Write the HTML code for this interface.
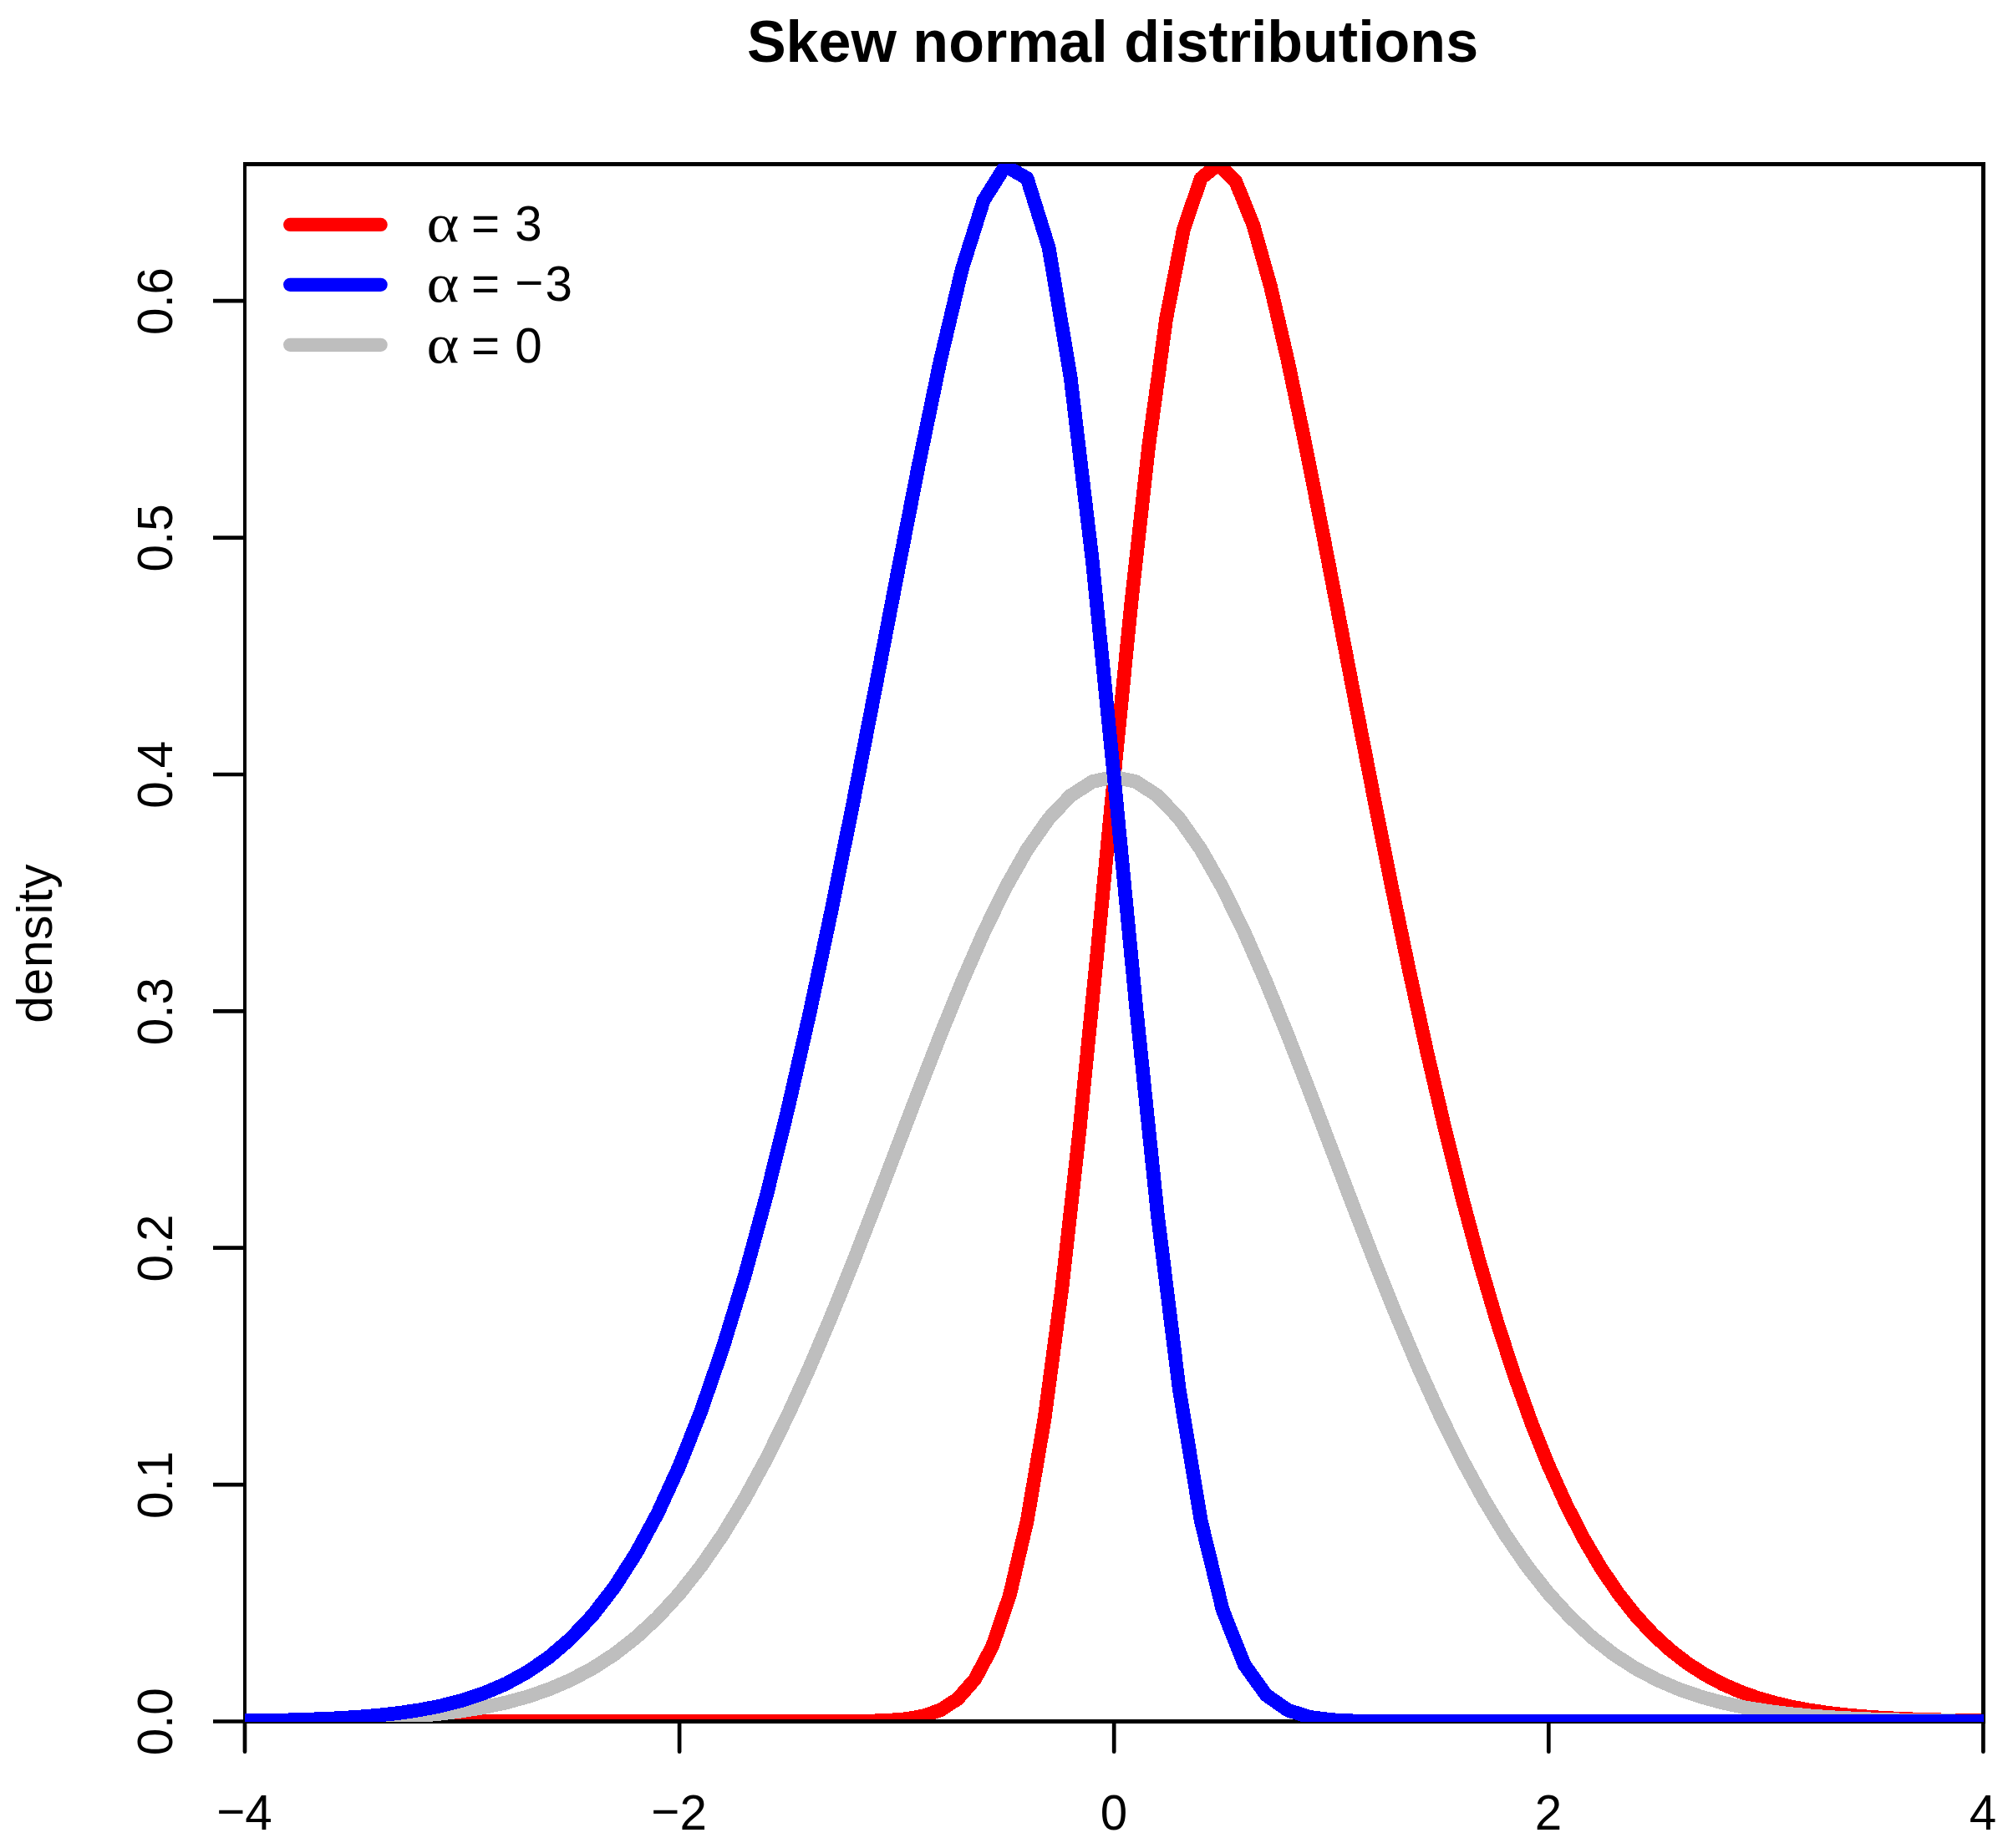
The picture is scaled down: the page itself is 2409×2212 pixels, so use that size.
<!DOCTYPE html>
<html lang="en"><head><meta charset="utf-8"><title>Skew normal distributions</title>
<style>html,body{margin:0;padding:0;background:#fff}body{width:2409px;height:2212px;overflow:hidden}svg{display:block}text{font-family:"Liberation Sans",sans-serif;font-size:58.33px;fill:#000}.t{font-weight:bold;font-size:70px}.sym{font-family:"Liberation Serif",serif}.c{fill:none;stroke-width:16.7;stroke-linejoin:round;stroke-linecap:round}.k{stroke:#000;stroke-width:4.7;stroke-linecap:round;fill:none}</style></head><body>
<svg width="2409" height="2212" viewBox="0 0 2409 2212">
<defs><clipPath id="cp"><rect x="293" y="196" width="2081" height="1865"/></clipPath></defs>
<rect width="2409" height="2212" fill="#fff"/>
<g clip-path="url(#cp)" shape-rendering="crispEdges"><polyline class="c" stroke="#ff0000" points="293.00,2060.50 313.80,2060.50 334.61,2060.50 355.41,2060.50 376.22,2060.50 397.02,2060.50 417.82,2060.50 438.63,2060.50 459.43,2060.50 480.24,2060.50 501.04,2060.50 521.84,2060.50 542.65,2060.50 563.45,2060.50 584.26,2060.50 605.06,2060.50 625.86,2060.50 646.67,2060.50 667.47,2060.50 688.28,2060.50 709.08,2060.50 729.88,2060.50 750.69,2060.50 771.49,2060.50 792.30,2060.50 813.10,2060.50 833.90,2060.50 854.71,2060.50 875.51,2060.50 896.32,2060.50 917.12,2060.50 937.92,2060.50 958.73,2060.49 979.53,2060.48 1000.34,2060.44 1021.14,2060.32 1041.94,2060.03 1062.75,2059.31 1083.55,2057.66 1104.36,2054.14 1125.16,2047.04 1145.96,2033.65 1166.77,2009.97 1187.57,1970.66 1208.38,1909.51 1229.18,1820.33 1249.98,1698.47 1270.79,1542.57 1291.59,1355.97 1312.40,1147.34 1333.20,929.99 1354.00,719.87 1374.81,532.77 1395.61,381.60 1416.42,274.36 1437.22,213.49 1458.02,196.50 1478.83,217.45 1499.63,268.73 1520.44,342.59 1541.24,432.12 1562.04,531.73 1582.85,637.13 1603.65,745.14 1624.46,853.40 1645.26,960.12 1666.06,1063.94 1686.87,1163.78 1707.67,1258.78 1728.48,1348.29 1749.28,1431.85 1770.08,1509.15 1790.89,1580.03 1811.69,1644.46 1832.50,1702.56 1853.30,1754.50 1874.10,1800.58 1894.91,1841.13 1915.71,1876.53 1936.52,1907.20 1957.32,1933.58 1978.12,1956.09 1998.93,1975.15 2019.73,1991.18 2040.54,2004.55 2061.34,2015.64 2082.14,2024.76 2102.95,2032.20 2123.75,2038.24 2144.56,2043.10 2165.36,2046.99 2186.16,2050.07 2206.97,2052.51 2227.77,2054.41 2248.58,2055.89 2269.38,2057.03 2290.18,2057.91 2310.99,2058.58 2331.79,2059.08 2352.60,2059.46 2373.40,2059.74"/></g>
<g shape-rendering="crispEdges" fill="#000">
<rect x="291" y="194" width="4" height="1869"/>
<rect x="2371" y="194" width="5" height="1869"/>
<rect x="291" y="194" width="2085" height="5"/>
<rect x="291" y="2058" width="2085" height="5"/>
</g>
<line class="k" x1="293.0" y1="2060.5" x2="293.0" y2="2096.7"/>
<line class="k" x1="813.1" y1="2060.5" x2="813.1" y2="2096.7"/>
<line class="k" x1="1333.2" y1="2060.5" x2="1333.2" y2="2096.7"/>
<line class="k" x1="1853.3" y1="2060.5" x2="1853.3" y2="2096.7"/>
<line class="k" x1="2373.4" y1="2060.5" x2="2373.4" y2="2096.7"/>
<line class="k" style="stroke-linecap:butt" x1="293.0" y1="2060.5" x2="255.0" y2="2060.5"/>
<line class="k" style="stroke-linecap:butt" x1="293.0" y1="1777.1" x2="255.0" y2="1777.1"/>
<line class="k" style="stroke-linecap:butt" x1="293.0" y1="1493.7" x2="255.0" y2="1493.7"/>
<line class="k" style="stroke-linecap:butt" x1="293.0" y1="1210.4" x2="255.0" y2="1210.4"/>
<line class="k" style="stroke-linecap:butt" x1="293.0" y1="927.0" x2="255.0" y2="927.0"/>
<line class="k" style="stroke-linecap:butt" x1="293.0" y1="643.6" x2="255.0" y2="643.6"/>
<line class="k" style="stroke-linecap:butt" x1="293.0" y1="360.2" x2="255.0" y2="360.2"/>
<g clip-path="url(#cp)" shape-rendering="crispEdges"><polyline class="c" stroke="#bebebe" points="293.00,2060.12 319.00,2059.94 345.01,2059.67 371.01,2059.30 397.02,2058.77 423.02,2058.03 449.03,2057.01 475.04,2055.62 501.04,2053.74 527.04,2051.24 553.05,2047.94 579.06,2043.63 605.06,2038.07 631.06,2030.97 657.07,2022.01 683.08,2010.83 709.08,1997.04 735.09,1980.23 761.09,1959.97 787.10,1935.86 813.10,1907.50 839.11,1874.56 865.11,1836.77 891.12,1793.99 917.12,1746.18 943.12,1693.48 969.13,1636.21 995.14,1574.88 1021.14,1510.22 1047.14,1443.16 1073.15,1374.81 1099.16,1306.48 1125.16,1239.58 1151.16,1175.65 1177.17,1116.22 1203.18,1062.83 1229.18,1016.91 1255.18,979.74 1281.19,952.38 1307.20,935.63 1333.20,929.99 1359.21,935.63 1385.21,952.38 1411.21,979.74 1437.22,1016.91 1463.23,1062.83 1489.23,1116.22 1515.24,1175.65 1541.24,1239.58 1567.25,1306.48 1593.25,1374.81 1619.26,1443.16 1645.26,1510.22 1671.27,1574.88 1697.27,1636.21 1723.28,1693.48 1749.28,1746.18 1775.29,1793.99 1801.29,1836.77 1827.30,1874.56 1853.30,1907.50 1879.31,1935.86 1905.31,1959.97 1931.32,1980.23 1957.32,1997.04 1983.33,2010.83 2009.33,2022.01 2035.34,2030.97 2061.34,2038.07 2087.35,2043.63 2113.35,2047.94 2139.36,2051.24 2165.36,2053.74 2191.37,2055.62 2217.37,2057.01 2243.38,2058.03 2269.38,2058.77 2295.39,2059.30 2321.39,2059.67 2347.39,2059.94 2373.40,2060.12"/>
<polyline class="c" stroke="#0000ff" points="293.00,2059.74 319.00,2059.37 345.01,2058.85 371.01,2058.09 397.02,2057.03 423.02,2055.55 449.03,2053.52 475.04,2050.74 501.04,2046.99 527.04,2041.99 553.05,2035.38 579.06,2026.76 605.06,2015.64 631.06,2001.44 657.07,1983.52 683.08,1961.16 709.08,1933.58 735.09,1899.96 761.09,1859.45 787.10,1811.22 813.10,1754.50 839.11,1688.62 865.11,1613.05 891.12,1527.47 917.12,1431.85 943.12,1326.46 969.13,1211.93 995.14,1089.31 1021.14,960.12 1047.14,826.41 1073.15,690.98 1099.16,557.68 1125.16,432.12 1151.16,322.41 1177.17,239.80 1203.18,198.46 1229.18,213.49 1255.18,296.82 1281.19,452.07 1307.20,670.36 1333.20,929.99 1359.21,1200.90 1385.21,1452.69 1411.21,1662.65 1437.22,1820.33 1463.23,1927.20 1489.23,1992.64 1515.24,2028.89 1541.24,2047.04 1567.25,2055.27 1593.25,2058.65 1619.26,2059.90 1645.26,2060.32 1671.27,2060.45 1697.27,2060.49 1723.28,2060.50 1749.28,2060.50 1775.29,2060.50 1801.29,2060.50 1827.30,2060.50 1853.30,2060.50 1879.31,2060.50 1905.31,2060.50 1931.32,2060.50 1957.32,2060.50 1983.33,2060.50 2009.33,2060.50 2035.34,2060.50 2061.34,2060.50 2087.35,2060.50 2113.35,2060.50 2139.36,2060.50 2165.36,2060.50 2191.37,2060.50 2217.37,2060.50 2243.38,2060.50 2269.38,2060.50 2295.39,2060.50 2321.39,2060.50 2347.39,2060.50 2373.40,2060.50"/></g>
<text x="292.5" y="2190" text-anchor="middle"><tspan dy="-2.5">−</tspan><tspan dy="2.5">4</tspan></text>
<text x="812.6" y="2190" text-anchor="middle"><tspan dy="-2.5">−</tspan><tspan dy="2.5">2</tspan></text>
<text x="1332.9" y="2190" text-anchor="middle">0</text>
<text x="1853.0" y="2190" text-anchor="middle">2</text>
<text x="2373.1" y="2190" text-anchor="middle">4</text>
<text transform="translate(205.5,2060.8) rotate(-90)" text-anchor="middle">0.0</text>
<text transform="translate(205.5,1777.4) rotate(-90)" text-anchor="middle">0.1</text>
<text transform="translate(205.5,1494.0) rotate(-90)" text-anchor="middle">0.2</text>
<text transform="translate(205.5,1210.7) rotate(-90)" text-anchor="middle">0.3</text>
<text transform="translate(205.5,927.3) rotate(-90)" text-anchor="middle">0.4</text>
<text transform="translate(205.5,643.9) rotate(-90)" text-anchor="middle">0.5</text>
<text transform="translate(205.5,360.5) rotate(-90)" text-anchor="middle">0.6</text>
<text transform="translate(61.8,1129.1) rotate(-90)" text-anchor="middle" letter-spacing="0.9">density</text>
<text class="t" x="1331.5" y="73.6" text-anchor="middle">Skew normal distributions</text>
<line class="c" style="stroke-width:16.3" stroke="#ff0000" x1="347.2" y1="268.9" x2="455.6" y2="268.9"/>
<text class="sym" transform="translate(510.5,289.2) scale(1.14,1)" style="font-size:65px">α</text>
<text x="564" y="288.4">=</text>
<text x="616.3" y="288.4">3</text>
<line class="c" style="stroke-width:16.3" stroke="#0000ff" x1="347.2" y1="340.8" x2="455.6" y2="340.8"/>
<text class="sym" transform="translate(510.5,361.2) scale(1.14,1)" style="font-size:65px">α</text>
<text x="564" y="360.4">=</text>
<text x="616.3" y="360.4" dy="-2.5">−</text>
<text x="652.5" y="360.4">3</text>
<line class="c" style="stroke-width:16.3" stroke="#bebebe" x1="347.2" y1="412.8" x2="455.6" y2="412.8"/>
<text class="sym" transform="translate(510.5,434.3) scale(1.14,1)" style="font-size:65px">α</text>
<text x="564" y="433.5">=</text>
<text x="616.3" y="433.5">0</text>
</svg></body></html>
